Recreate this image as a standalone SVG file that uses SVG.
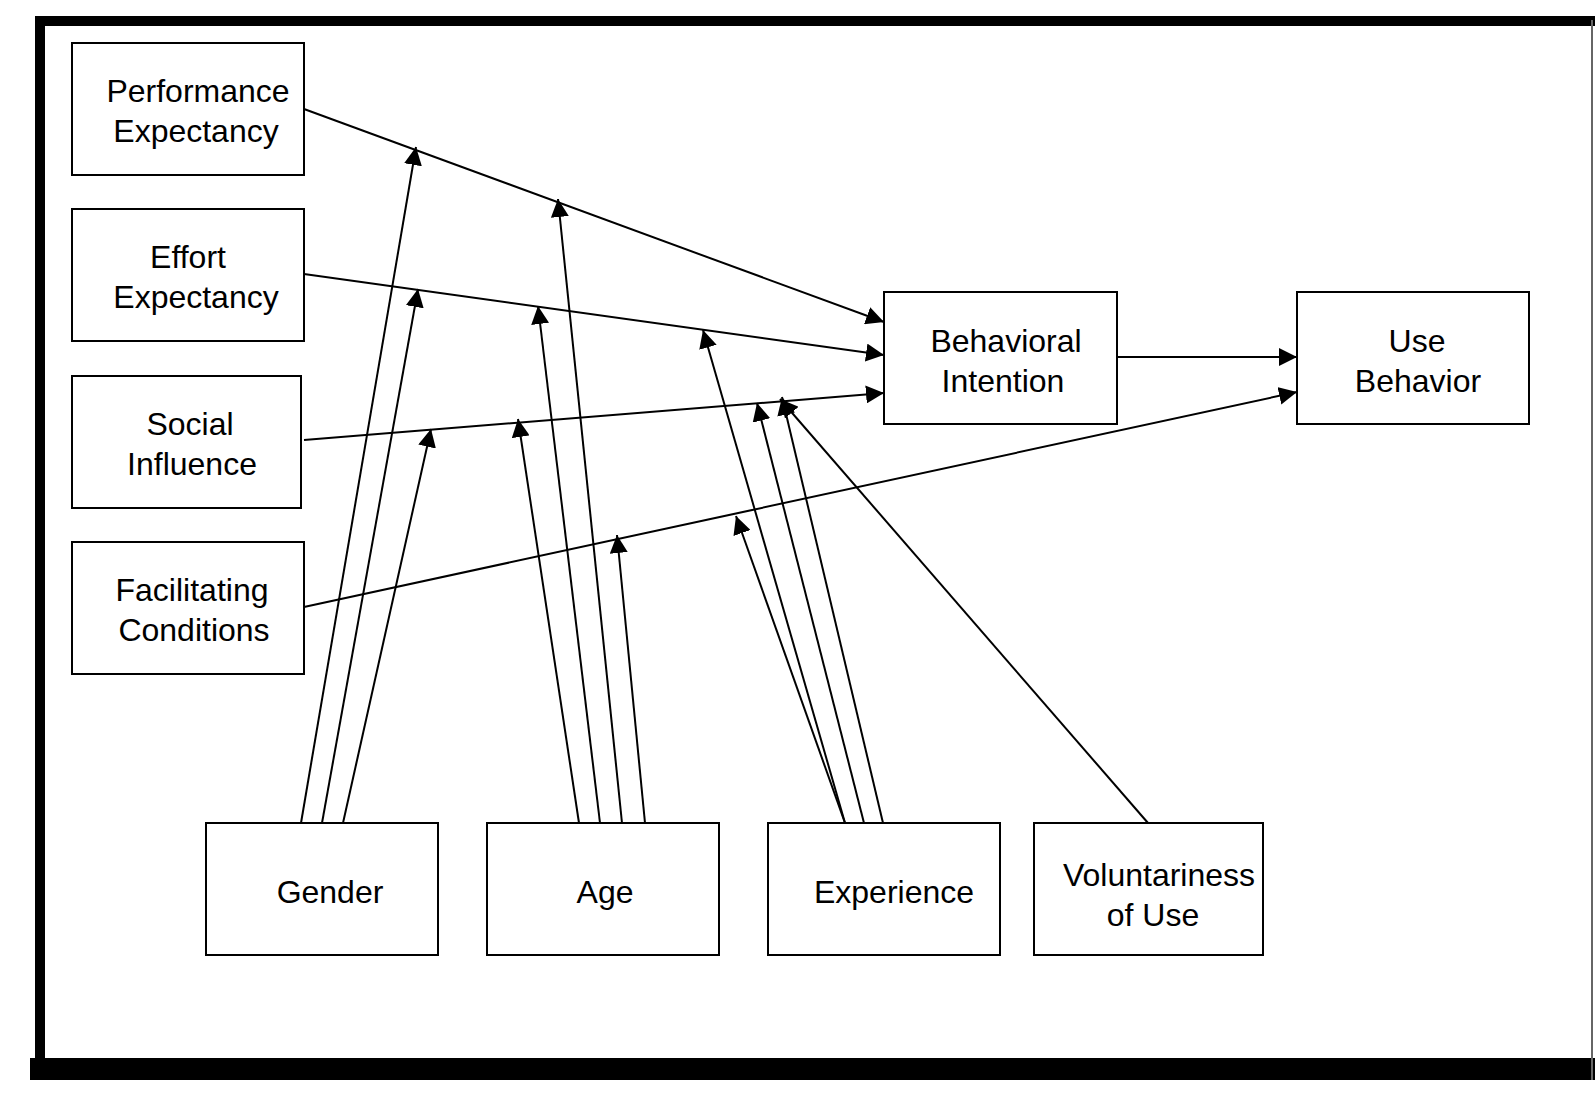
<svg xmlns="http://www.w3.org/2000/svg" width="1595" height="1113" viewBox="0 0 1595 1113">
<defs>
<marker id="ah" viewBox="0 0 10 10" refX="10" refY="5" markerWidth="18" markerHeight="18" markerUnits="userSpaceOnUse" orient="auto"><path d="M0,0 L10,5 L0,10 z" fill="#000"/></marker>
</defs>
<style>
rect.n{fill:#fff;stroke:#000;stroke-width:2}
text{font-family:"Liberation Sans",Arial,sans-serif;font-size:32px;text-anchor:middle;fill:#000}
.c line{stroke:#000;stroke-width:2;marker-end:url(#ah)}
</style>
<rect width="1595" height="1113" fill="#fff"/>
<rect x="40" y="21" width="1600" height="1048" fill="none" stroke="#000" stroke-width="10"/>
<rect x="30" y="1058" width="1565" height="22" fill="#000"/>
<line x1="1592" y1="20" x2="1592" y2="1080" stroke="#666" stroke-width="2"/>
<g class="c">
<line x1="304" y1="109" x2="884" y2="322"/>
<line x1="304" y1="274" x2="884" y2="355"/>
<line x1="304" y1="440" x2="884" y2="393"/>
<line x1="304" y1="607" x2="1297" y2="392"/>
<line x1="1117" y1="357" x2="1297" y2="357"/>
<line x1="301" y1="823" x2="416" y2="147"/>
<line x1="322" y1="823" x2="418" y2="289"/>
<line x1="343" y1="823" x2="431" y2="429"/>
<line x1="579" y1="823" x2="518" y2="419"/>
<line x1="600" y1="823" x2="538" y2="306"/>
<line x1="622" y1="823" x2="558" y2="199"/>
<line x1="645" y1="823" x2="617" y2="535"/>
<line x1="845" y1="823" x2="703" y2="330"/>
<line x1="845" y1="823" x2="736" y2="516"/>
<line x1="864" y1="823" x2="757" y2="403"/>
<line x1="883" y1="823" x2="782" y2="397"/>
<line x1="1148" y1="823" x2="780" y2="399"/>
</g>
<g id="pe"><rect class="n" x="72" y="43" width="232" height="132"/><text x="198" y="102">Performance</text><text x="196" y="142">Expectancy</text></g>
<g id="ee"><rect class="n" x="72" y="209" width="232" height="132"/><text x="188" y="268">Effort</text><text x="196" y="308">Expectancy</text></g>
<g id="si"><rect class="n" x="72" y="376" width="229" height="132"/><text x="190" y="435">Social</text><text x="192" y="475">Influence</text></g>
<g id="fc"><rect class="n" x="72" y="542" width="232" height="132"/><text x="192" y="601">Facilitating</text><text x="194" y="641">Conditions</text></g>
<g id="bi"><rect class="n" x="884" y="292" width="233" height="132"/><text x="1006" y="352">Behavioral</text><text x="1003" y="392">Intention</text></g>
<g id="ub"><rect class="n" x="1297" y="292" width="232" height="132"/><text x="1417" y="352">Use</text><text x="1418" y="392">Behavior</text></g>
<g id="gender"><rect class="n" x="206" y="823" width="232" height="132"/><text x="330" y="903">Gender</text></g>
<g id="age"><rect class="n" x="487" y="823" width="232" height="132"/><text x="605" y="903">Age</text></g>
<g id="exp"><rect class="n" x="768" y="823" width="232" height="132"/><text x="894" y="903">Experience</text></g>
<g id="vol"><rect class="n" x="1034" y="823" width="229" height="132"/><text x="1159" y="886">Voluntariness</text><text x="1153" y="926">of Use</text></g>
</svg>
